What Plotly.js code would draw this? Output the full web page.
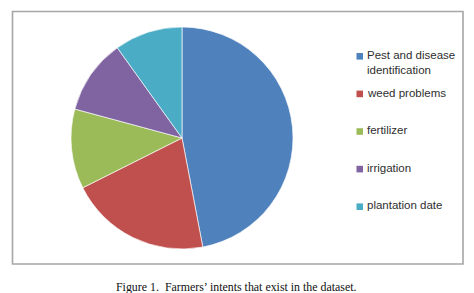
<!DOCTYPE html>
<html>
<head>
<meta charset="utf-8">
<script src="https://cdn.plot.ly/plotly-3.0.1.min.js"></script>
<style>html,body{margin:0;padding:0;background:#fff;}#chart{width:474px;height:293px;}</style>
</head>
<body>
<div id="chart"></div>
<script>
var categories = ["Pest and disease identification", "weed problems", "fertilizer", "irrigation", "plantation date"];
var legendLabels = ["Pest and disease<br>identification", "weed problems", "fertilizer", "irrigation", "plantation date"];
var values = [47.0, 20.6, 11.6, 10.9, 9.9];
var colors = ["#4F81BD", "#C0504D", "#9BBB59", "#8064A2", "#4BACC6"];
var caption = "Figure 1.&nbsp; Farmers\u2019 intents that exist in the dataset.";

var W = 474, H = 293;
function px(x) { return x / W; }
function py(y) { return 1 - y / H; }

var cx = 182, cy = 138, r = 111;

var trace = {
  type: "pie",
  labels: categories,
  values: values,
  sort: false,
  direction: "clockwise",
  rotation: 0,
  textinfo: "none",
  hoverinfo: "label+value",
  showlegend: false,
  marker: { colors: colors, line: { color: "rgba(255,255,255,0.8)", width: 0.8 } },
  domain: { x: [px(cx - r), px(cx + r)], y: [py(cy + r), py(cy - r)] }
};

var shapes = [{
  type: "rect", xref: "paper", yref: "paper",
  x0: px(12.5), x1: px(463), y0: py(264), y1: py(11.5),
  line: { color: "#A6A6A6", width: 1.6 }, fillcolor: "rgba(0,0,0,0)", layer: "below"
}];
var annotations = [];
var y0 = 55.8, pitch = 37.6;
for (var i = 0; i < categories.length; i++) {
  var yc = y0 + i * pitch;
  shapes.push({
    type: "rect", xref: "paper", yref: "paper",
    x0: px(356.5), x1: px(363), y0: py(yc + 3.8), y1: py(yc - 2.8),
    line: { width: 0 }, fillcolor: colors[i]
  });
  annotations.push({
    xref: "paper", yref: "paper", x: px(364.5), y: py(yc - 8.8),
    xanchor: "left", yanchor: "top", align: "left", showarrow: false,
    text: legendLabels[i],
    font: { family: "Liberation Sans, Arial, sans-serif", size: 11.5, color: "#2e2e2e" }
  });
}
annotations.push({
  xref: "paper", yref: "paper", x: px(236), y: py(286.5),
  xanchor: "center", yanchor: "middle", showarrow: false, borderpad: 0,
  text: caption,
  font: { family: "Liberation Serif, Times New Roman, serif", size: 11.9, color: "#111111" }
});

var layout = {
  width: W, height: H,
  margin: { l: 0, r: 0, t: 0, b: 0 },
  paper_bgcolor: "#ffffff",
  showlegend: false,
  shapes: shapes,
  annotations: annotations
};

Plotly.newPlot("chart", [trace], layout, { displayModeBar: false, staticPlot: true });
</script>
</body>
</html>
